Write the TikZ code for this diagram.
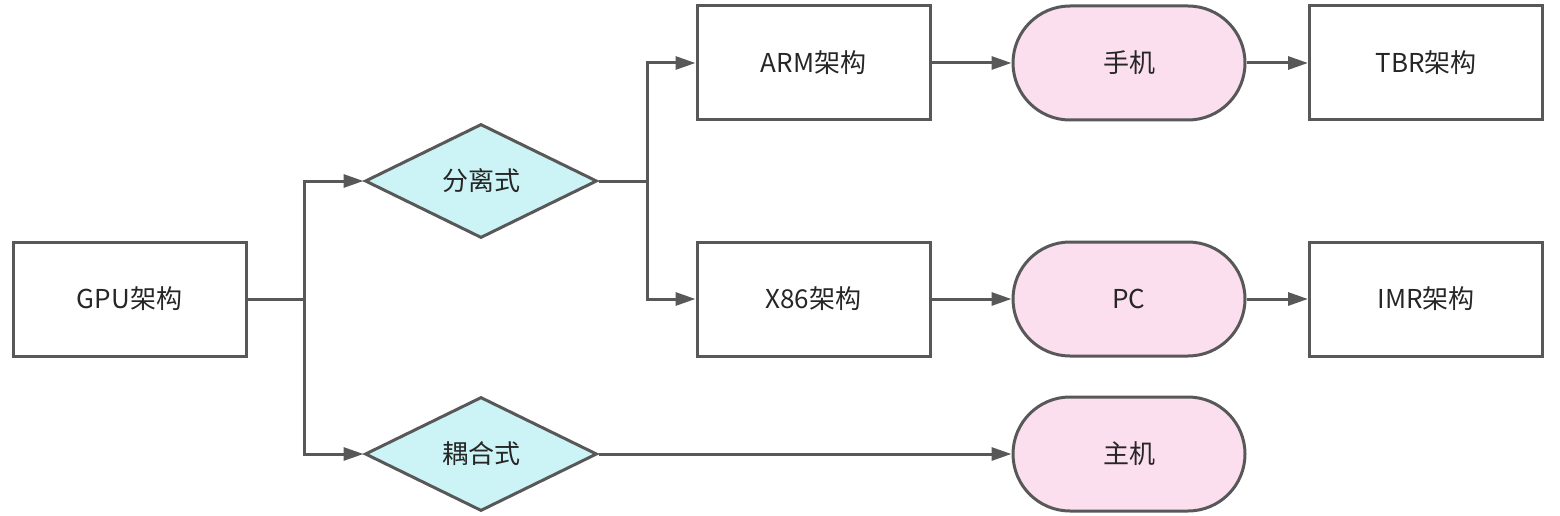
\documentclass[tikz,border=0pt]{standalone}
\usepackage{fontspec}
\setmainfont{Noto Sans CJK SC}
\usetikzlibrary{shapes.geometric,arrows.meta}
\definecolor{ln}{HTML}{585858}
\definecolor{cy}{HTML}{CCF3F5}
\definecolor{pk}{HTML}{FBDFEE}
\begin{document}
\begin{tikzpicture}[x=1pt,y=-1pt,
  every node/.style={font=\fontsize{26}{30}\selectfont, text=black!85},
  box/.style={draw=ln,line width=3pt,minimum width=233pt,minimum height=114pt,inner sep=0pt},
  dia/.style={diamond,draw=ln,line width=3pt,fill=cy,minimum width=232pt,minimum height=114pt,aspect=2.03,inner sep=0pt},
  pill/.style={draw=ln,line width=3pt,fill=pk,rounded corners=57pt,minimum width=232pt,minimum height=114pt,inner sep=0pt},
  ar/.style={draw=ln,line width=3pt,-{Triangle[length=20pt,width=13pt]}},
  ln/.style={draw=ln,line width=3pt}]
\useasboundingbox (0,0) rectangle (1560,516);
\node[box] (gpu) at (129.5,299) {GPU架构};
\node[dia] (fl) at (481,181) {分离式};
\node[dia] (oh) at (481,454) {耦合式};
\node[box] (arm) at (813.5,63) {ARM架构};
\node[box] (x86) at (813.5,299) {X86架构};
\node[pill] (sj) at (1129,63) {手机};
\node[pill] (pc) at (1129,299) {PC};
\node[pill] (zj) at (1129,454) {主机};
\node[box] (tbr) at (1426,63) {TBR架构};
\node[box] (imr) at (1426,299) {IMR架构};
\coordinate (s1) at (304,299);
\coordinate (s2) at (647,181);
\draw[ln] (gpu.east) -- (s1);
\draw[ar] (s1) |- (fl.west);
\draw[ar] (s1) |- (oh.west);
\draw[ln] (fl.east) -- (s2);
\draw[ar] (s2) |- (arm.west);
\draw[ar] (s2) |- (x86.west);
\draw[ar] (oh.east) -- (zj.west);
\draw[ar] (arm.east) -- (sj.west);
\draw[ar] (x86.east) -- (pc.west);
\draw[ar] (sj.east) -- (tbr.west);
\draw[ar] (pc.east) -- (imr.west);
\end{tikzpicture}
\end{document}
